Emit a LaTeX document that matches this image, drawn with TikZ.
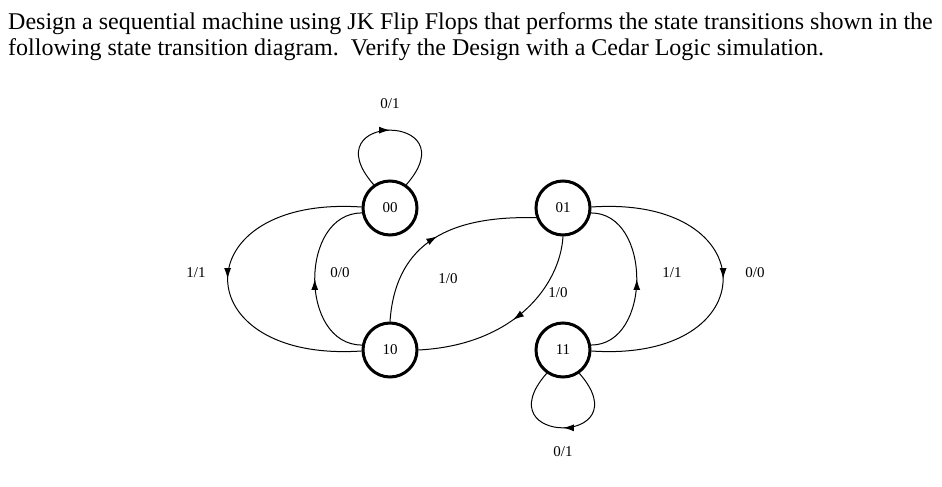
\documentclass[tikz,border=0pt]{standalone}
\usepackage{fontspec}
\setmainfont{Liberation Serif}
\usetikzlibrary{decorations.markings,arrows.meta}
\tikzset{
  state/.style={circle,draw,line width=3bp,minimum size=54bp,inner sep=0pt,font=\fontsize{15bp}{18bp}\selectfont},
  lbl/.style={font=\fontsize{15bp}{18bp}\selectfont},
  trans/.style={line width=1bp,postaction={decorate},decoration={markings,mark=at position .5 with {\arrow{Latex[length=11bp,width=7bp]}}}},
}
\begin{document}
\begin{tikzpicture}[x=1bp,y=-1bp]
\useasboundingbox (0,0) rectangle (942,487);
%%
\node[anchor=north west,align=left,inner sep=0pt,font=\fontsize{24bp}{26bp}\selectfont] (title) at (8,12)
  {Design a sequential machine using JK Flip Flops that performs the state transitions shown in the\\
   following state transition diagram.\ \ Verify the Design with a Cedar Logic simulation.};
  % Node: states
  \node[state] (s00) at (390,208) {00};
  \node[state] (s01) at (563,208) {01};
  \node[state] (s10) at (390,350) {10};
  \node[state] (s11) at (563,350) {11};
  % Edge: 00 -> 00
  \draw [trans] (s00.125) .. controls (310,112) and (470,112) .. (s00.55);
  % Edge: 00 -> 10
  \draw [trans] (s00.178) .. controls (183,195) and (183,363) .. (s10.182);
  % Edge: 10 -> 00
  \draw [trans] (s10.170) .. controls (299,345) and (299,213) .. (s00.190);
  % Edge: 10 -> 01
  \draw [trans] (s10.north) .. controls (395,250) and (440,215) .. (s01.200);
  % Edge: 01 -> 10
  \draw [trans] (s01.south) .. controls (560,285) and (515,345) .. (s10.east);
  % Edge: 11 -> 01
  \draw [trans] (s11.10) .. controls (652,345) and (652,213) .. (s01.350);
  % Edge: 01 -> 11
  \draw [trans] (s01.2) .. controls (767,195) and (767,363) .. (s11.358);
  % Edge: 11 -> 11
  \draw [trans] (s11.-55) .. controls (643,446) and (483,446) .. (s11.-125);
  % Labels
  \node[lbl] (l1) at (390,104) {0/1};
  \node[lbl] (l2) at (196,273) {1/1};
  \node[lbl] (l3) at (340,273) {0/0};
  \node[lbl] (l4) at (448,279) {1/0};
  \node[lbl] (l5) at (558,293) {1/0};
  \node[lbl] (l6) at (672,273) {1/1};
  \node[lbl] (l7) at (755,273) {0/0};
  \node[lbl] (l8) at (563,452) {0/1};
%
\end{tikzpicture}
\end{document}
